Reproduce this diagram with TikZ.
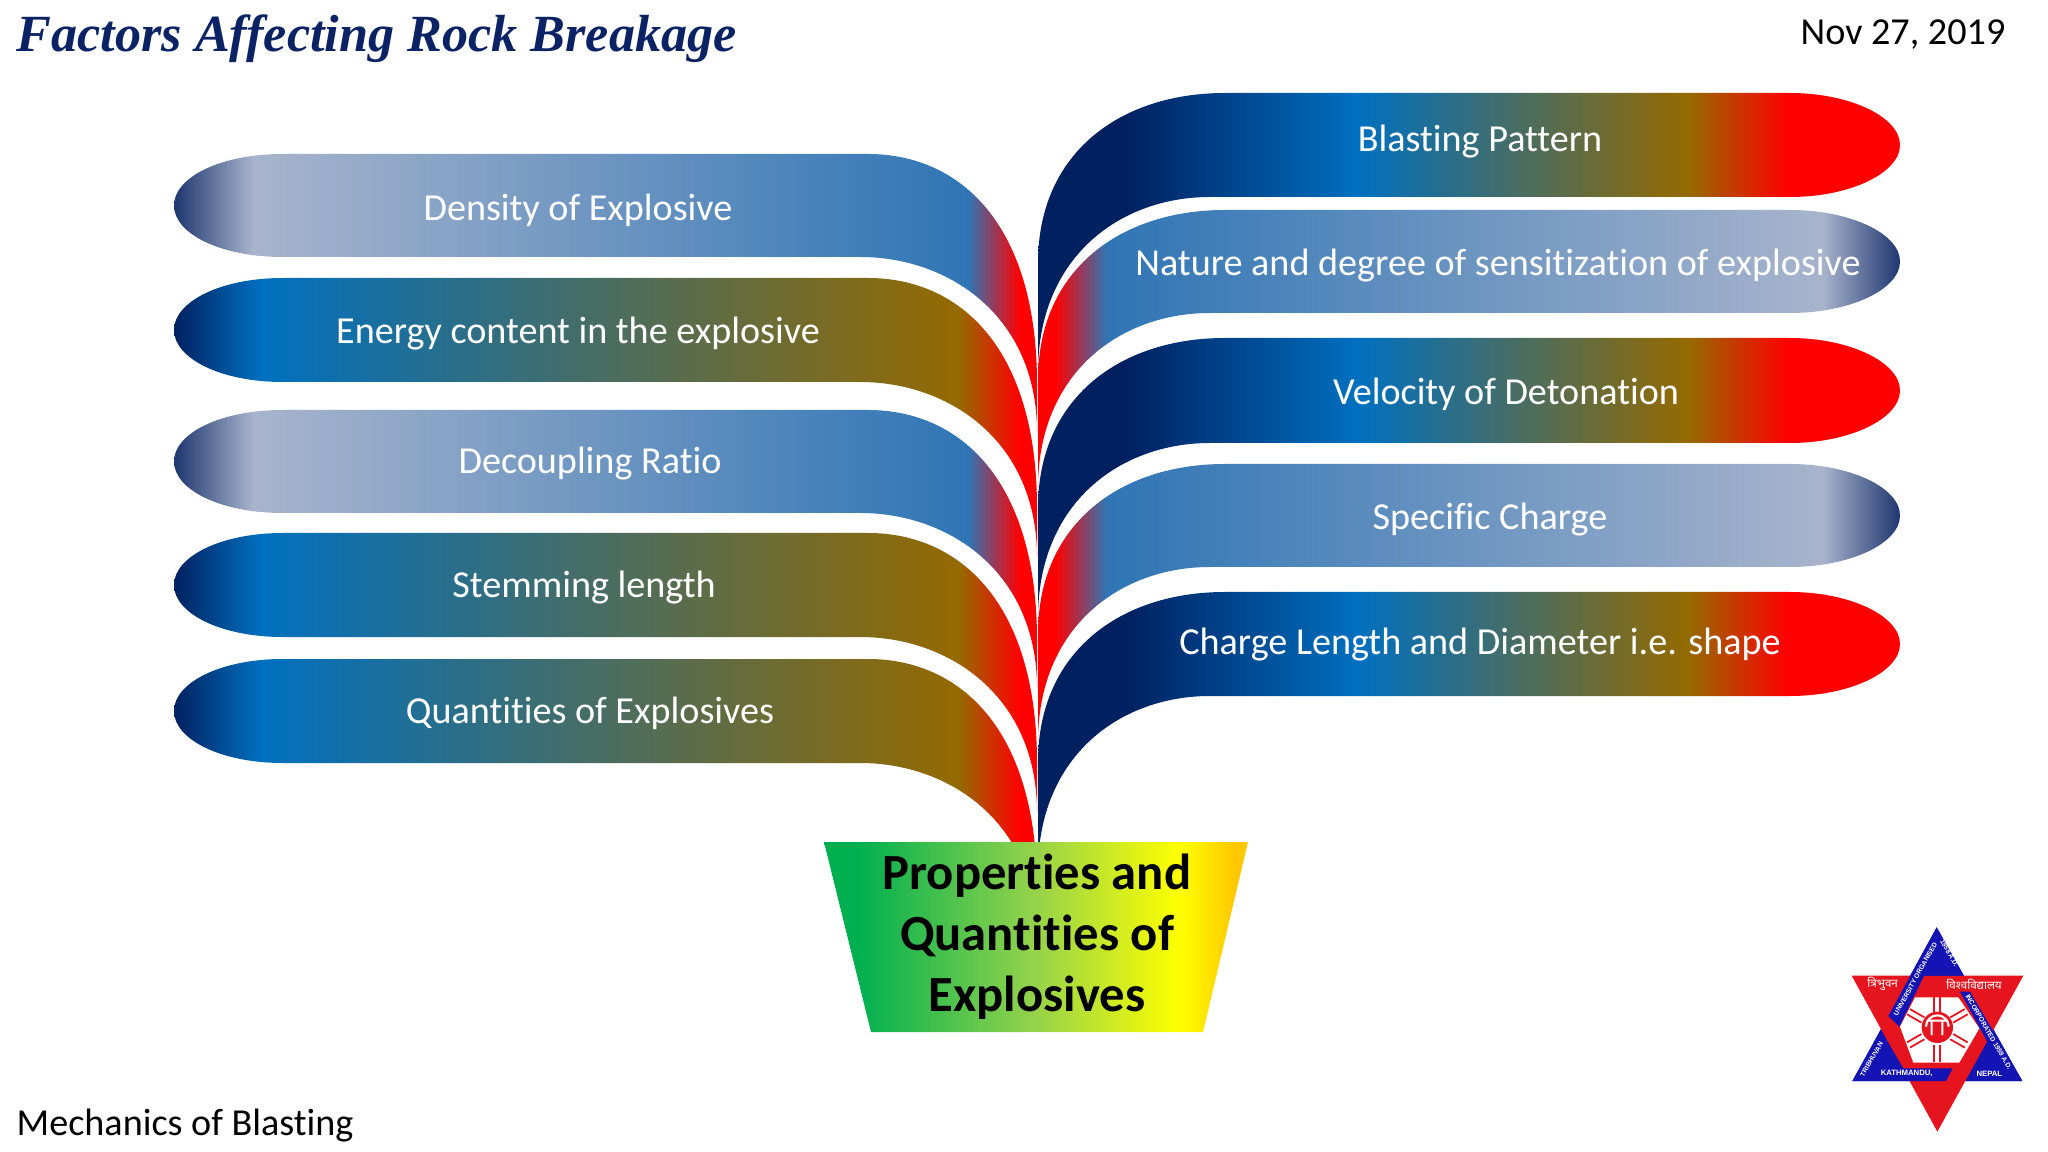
\documentclass[tikz,border=0pt]{standalone}
\usepackage{fontspec}
\setmainfont[Ligatures=NoCommon]{Carlito}
\newfontfamily\titlefont{Liberation Serif}
\newfontfamily\logofont{Liberation Sans}
\newfontfamily\devafont[Script=Devanagari]{Noto Sans}

\definecolor{navyband}{HTML}{002060}
\definecolor{blueband}{HTML}{0070C0}
\definecolor{brownband}{HTML}{956A00}
\definecolor{steelband}{HTML}{2F75B5}
\definecolor{paleband}{HTML}{A8B4CC}
\definecolor{tipband}{HTML}{1F3670}
\definecolor{potgreen}{HTML}{00B050}
\definecolor{potlime}{HTML}{96D34A}
\definecolor{potgold}{HTML}{FFC800}
\definecolor{titleblue}{HTML}{0B2265}
\definecolor{logoblue}{HTML}{1414B4}
\definecolor{logored}{HTML}{E6141E}

\pgfdeclarehorizontalshading{steelleft}{100bp}{color(0bp)=(tipband); color(25bp)=(tipband);
  color(29.6bp)=(paleband); color(71bp)=(steelband); color(74bp)=(red); color(100bp)=(red)}
\pgfdeclarehorizontalshading{brownleft}{100bp}{color(0bp)=(navyband); color(25bp)=(navyband);
  color(30bp)=(blueband); color(70.5bp)=(brownband); color(74bp)=(red); color(100bp)=(red)}
\pgfdeclarehorizontalshading{steelright}{100bp}{color(0bp)=(red); color(26bp)=(red);
  color(29bp)=(steelband); color(70.5bp)=(paleband); color(75bp)=(tipband); color(100bp)=(tipband)}
\pgfdeclarehorizontalshading{brownright}{100bp}{color(0bp)=(navyband); color(30bp)=(navyband);
  color(43.5bp)=(blueband); color(62.8bp)=(brownband); color(68.5bp)=(red); color(100bp)=(red)}
\pgfdeclarehorizontalshading{potshade}{100bp}{color(0bp)=(potgreen); color(29bp)=(potgreen);
  color(50bp)=(potlime); color(67bp)=(yellow); color(73.5bp)=(potgold); color(100bp)=(potgold)}

\begin{document}
\begin{tikzpicture}[
  x=0.01cm, y=-0.01cm,
  bandlabel/.style={text=white, font=\fontsize{10.85}{13}\selectfont, inner sep=0pt},
  pagelabel/.style={text=black, font=\fontsize{10.85}{13}\selectfont, inner sep=0pt},
  logotext/.style={text=white, font=\logofont\bfseries\fontsize{2.2}{3}\selectfont, inner sep=0pt},
  logoslant/.style={logotext, font=\logofont\bfseries\fontsize{1.9}{3}\selectfont},
  logodeva/.style={text=white, font=\devafont\fontsize{3.3}{4}\selectfont, inner sep=0pt},
  spoke/.style={logored, line width=0.5pt},
]
  \useasboundingbox (0,0) rectangle (2048,1152);

  % left bands
  \foreach \nm/\yt/\yb/\tx/\ty/\shd/\lbl in {
    density/154/257/578/210/steelleft/Density of Explosive,
    energy/278/382/578/334/brownleft/Energy content in the explosive,
    decoupling/410/513/590/464/steelleft/Decoupling Ratio,
    stemming/533/637/584/588/brownleft/Stemming length,
    quantities/659/763/590/713/brownleft/Quantities of Explosives} {
    \pgfmathsetmacro{\ym}{(\yt+\yb)/2}
    \shade[shading=\shd] (283,\yt) -- (868,\yt)
      .. controls (960,\yt) and (1037,\yt+70) .. (1037,\yt+230)
      -- (1037,\yb+175)
      .. controls (1037,\yb+60) and (950,\yb) .. (860,\yb)
      -- (283,\yb)
      .. controls (220,\yb) and (174,\ym+28) .. (174,\ym)
      .. controls (174,\ym-28) and (220,\yt) .. (283,\yt) -- cycle;
    \node[bandlabel] (\nm) at (\tx,\ty) {\lbl};
  }

  % right bands
  \foreach \nm/\yt/\yb/\tx/\ty/\shd/\lbl in {
    blasting/93/197/1480/142/brownright/Blasting Pattern,
    nature/210/313/1498/266/steelright/Nature and degree of sensitization of explosive,
    velocity/338/443/1506/394/brownright/Velocity of Detonation,
    specific/464/567/1490/520/steelright/Specific Charge,
    charge/592/696/1480/645/brownright/Charge Length and Diameter i.e. shape} {
    \pgfmathsetmacro{\ym}{(\yt+\yb)/2}
    \shade[shading=\shd] (1790,\yt) -- (1225,\yt)
      .. controls (1120,\yt) and (1038,\yt+60) .. (1038,\yt+170)
      -- (1038,\yb+175)
      .. controls (1038,\yb+60) and (1120,\yb) .. (1210,\yb)
      -- (1790,\yb)
      .. controls (1850,\yb) and (1900,\ym+28) .. (1900,\ym)
      .. controls (1900,\ym-28) and (1850,\yt) .. (1790,\yt) -- cycle;
    \node[bandlabel] (\nm) at (\tx,\ty) {\lbl};
  }

  % pot
  \shade[shading=potshade] (824,842) -- (1248,842) -- (1203,1032) -- (871,1032) -- cycle;
  \node[text=black, inner sep=0pt, align=center, font=\bfseries\fontsize{14.4}{17.3}\selectfont]
    (pot) at (1037,937) {Properties and\\Quantities of\\Explosives};

  % page texts
  \node[anchor=west, text=titleblue, inner sep=0pt, font=\titlefont\bfseries\itshape\fontsize{14.85}{16}\selectfont]
    (title) at (16,39) {Factors Affecting Rock Breakage};
  \node[pagelabel, anchor=east] (date) at (2006,35) {Nov 27, 2019};
  \node[pagelabel, anchor=west] (course) at (16,1126) {Mechanics of Blasting};

  % logo
  \begin{scope}[shift={(1820,910)}, x=0.01cm/3, y=-0.01cm/3]
    \fill[logoblue] (350,52) -- (97,513) -- (607,513) -- cycle;
    \fill[logored] (95,197) -- (610,197) -- (352,665) -- cycle;
    \fill[logoblue] (350,52) -- (432,197) -- (312,197) -- (238,350) -- (205,318) -- cycle;
    \fill[logoblue] (183,362) -- (250,475) -- (398,475) -- (378,513) -- (97,513) -- cycle;
    \fill[logoblue] (420,245) -- (450,245) -- (607,513) -- (440,513) -- (460,475) -- (545,475) -- cycle;
    \fill[white] (285,262) -- (415,262) -- (478,355) -- (418,458) -- (280,458) -- (240,350) -- cycle;
    % spokes
    \foreach \ang in {90,30,-30,-90,-150,150} {
      \begin{scope}[shift={(352,355)}, rotate=\ang]
        \draw[spoke] (50,-9) -- (100,-9);
        \draw[spoke] (50,9) -- (100,9);
      \end{scope}
    }
    \fill[logored] (352,352) circle (47);
    \draw[white, line width=0.6pt] (320,332) -- (384,332) (335,332) -- (335,375) (367,332) -- (367,375)
      (318,350) arc[start angle=180, end angle=360, radius=34];
    \node[logoslant, rotate=61] (university) at (286,207) {UNIVERSITY ORGANISED};
    \node[logoslant, rotate=-60] (founded) at (388,130) {1958 A.D.};
    \node[logoslant, rotate=-60] (incorporated) at (506,366) {INCORPORATED 1959 A.D.};
    \node[logoslant, rotate=60] (tribhuvan) at (155,448) {TRIBHUVAN};
    \node[logotext] (kathmandu) at (260,491) {KATHMANDU,};
    \node[logotext] (nepal) at (508,491) {NEPAL};
    \node[logodeva] (tri) at (188,222) {त्रिभुवन};
    \node[logodeva] (vishwa) at (462,222) {विश्वविद्यालय};
  \end{scope}
\end{tikzpicture}
\end{document}
